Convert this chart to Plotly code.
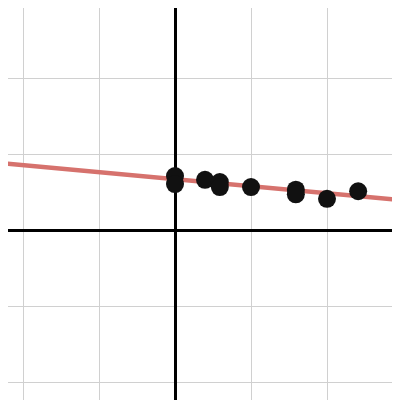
import plotly.graph_objs as go

# scatter points
pts_x = [0, 0, 0.395, 0.59, 0.59, 1.0, 1.59, 1.59, 2.0, 2.41]
pts_y = [0.71, 0.605, 0.66, 0.63, 0.565, 0.565, 0.53, 0.47, 0.41, 0.51]

# fitted line endpoints
line_x = [-2.5, 3.2]
line_y = [0.898, 0.374]

fig = go.Figure()
fig.add_trace(go.Scatter(
    x=line_x, y=line_y, mode='lines',
    line=dict(color='#d6726d', width=4.5),
    hoverinfo='none',
))
fig.add_trace(go.Scatter(
    x=pts_x, y=pts_y, mode='markers',
    marker=dict(color='#111111', size=18),
    hoverinfo='none',
))

axis_style = dict(
    showgrid=True, gridcolor='#d0d0d0', gridwidth=1,
    dtick=1, showticklabels=False, ticks='',
    zeroline=True, zerolinecolor='black', zerolinewidth=2.5,
    showline=False,
)
# page has 8px body margin, so shift ranges accordingly
fig.update_xaxes(range=[-167 / 76, 233 / 76], **axis_style)
fig.update_yaxes(range=[-178 / 76, 222 / 76], **axis_style)
fig.update_layout(
    width=400, height=400,
    showlegend=False,
    plot_bgcolor='white', paper_bgcolor='white',
    margin=dict(l=0, r=0, t=0, b=0),
)
fig.write_html("out.html", config={'displayModeBar': False})
